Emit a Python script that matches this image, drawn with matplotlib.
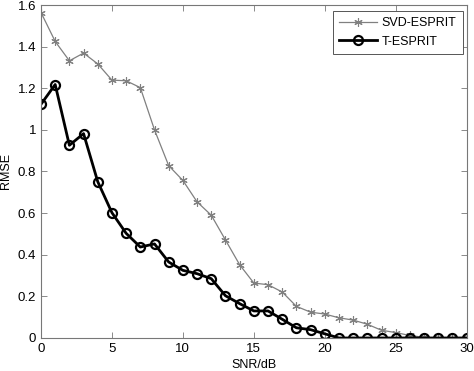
import matplotlib
matplotlib.use("Agg")
import matplotlib.pyplot as plt
from matplotlib.ticker import FuncFormatter
import numpy as np

snr = list(range(0, 31))
svd_esprit = [1.564, 1.425, 1.332, 1.369, 1.317, 1.239, 1.236, 1.203, 1.0, 0.828,
              0.757, 0.654, 0.59, 0.471, 0.352, 0.264, 0.256, 0.221, 0.152, 0.124,
              0.115, 0.097, 0.086, 0.066, 0.037, 0.026, 0.012, 0.003, 0.0, 0.0, 0.0]
t_esprit = [1.123, 1.218, 0.926, 0.982, 0.751, 0.602, 0.503, 0.437, 0.452, 0.365,
            0.325, 0.309, 0.285, 0.203, 0.165, 0.13, 0.13, 0.09, 0.049, 0.04,
            0.02, 0.0, 0.0, 0.0, 0.0, 0.0, 0.0, 0.0, 0.0, 0.0, 0.0]

plt.rcParams['font.family'] = ['Liberation Sans', 'DejaVu Sans']
plt.rcParams['font.size'] = 9

fig = plt.figure(figsize=(4.74, 3.71), dpi=100, facecolor='w')
ax = fig.add_axes([0.0865, 0.089, 0.898, 0.8975])

# matlab style asterisk marker
ax.plot(snr, svd_esprit, '-', color='#808080', lw=0.9, marker=(6, 2, 0),
        markersize=6, markeredgewidth=0.8, label='SVD-ESPRIT')
ax.plot(snr, t_esprit, '-', color='black', lw=2, marker='o', markersize=6.5,
        markerfacecolor='none', markeredgewidth=1.6, label='T-ESPRIT')

ax.set_xlim(0, 30)
ax.set_ylim(0, 1.6)
ax.set_xticks(np.arange(0, 31, 5))
ax.set_yticks(np.arange(0, 1.61, 0.2))
ax.yaxis.set_major_formatter(FuncFormatter(lambda v, p: '%g' % round(v, 1)))
ax.tick_params(direction='in', top=True, right=True, length=4, width=0.6,
               color='#777777', labelsize=9.5, pad=3.5)
for s in ax.spines.values():
    s.set_color('#777777')
    s.set_linewidth(0.8)

ax.set_xlabel('SNR/dB', labelpad=3)
ax.set_ylabel('RMSE', labelpad=4)

leg = ax.legend(loc='upper right', bbox_to_anchor=(0.991, 0.982), borderaxespad=0,
                fancybox=False, edgecolor='#555555', framealpha=1, handlelength=3.0,
                borderpad=0.5, labelspacing=0.5, handletextpad=0.4)
leg.get_frame().set_linewidth(0.7)

fig.savefig('out.png', dpi=100)
